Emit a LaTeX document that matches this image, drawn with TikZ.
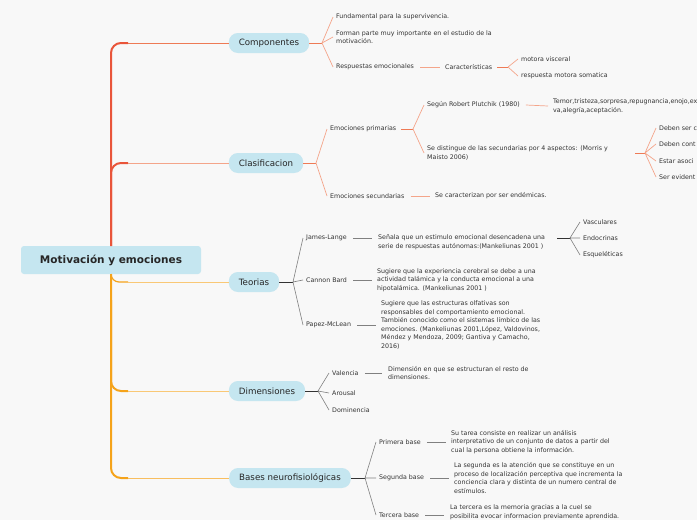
\documentclass[tikz,border=0pt]{standalone}
\usepackage{fontspec}
\setmainfont{DejaVu Sans}
\definecolor{bg}{HTML}{F8F8F8}
\definecolor{topic}{HTML}{C5E6F0}
\definecolor{red1}{HTML}{E9553A}
\definecolor{orng}{HTML}{F5A31A}
\definecolor{salm}{HTML}{F4A58A}
\definecolor{salmd}{HTML}{EE7A55}
\definecolor{gr}{HTML}{808080}
\definecolor{txt}{HTML}{333333}
\begin{document}
\begin{tikzpicture}[x=1pt,y=-1pt,
 leaf/.style={anchor=west,inner xsep=3pt,inner ysep=1pt,align=left,text=txt,font=\fontsize{6.3}{8.6}\selectfont},
 topicbox/.style={fill=topic,rounded corners=9pt,minimum height=20pt,inner xsep=10pt,text=black!85,font=\fontsize{8.7}{10}\selectfont},
 sl/.style={salm,line width=0.7pt},
 gl/.style={gr,line width=0.6pt}]
\fill[bg] (0,0) rectangle (697,520);
\useasboundingbox (0,0) rectangle (697,520);
% root
\node[fill=topic,rounded corners=3pt,minimum width=180pt,minimum height=28pt,font=\bfseries\fontsize{10.5}{12}\selectfont,text=black!85] (root) at (111,260) {Motivación y emociones};
\node[topicbox] (comp) at (269,43) {Componentes};
\node[topicbox] (clas) at (266,163) {Clasificacion};
\node[topicbox] (teor) at (254,282) {Teorias};
\node[topicbox] (dim) at (267,391) {Dimensiones};
\node[topicbox] (bases) at (290,478) {Bases neurofisiológicas};
% trunk
\draw[red1,line width=2pt,rounded corners=10pt] (root.north) -- (111,43) -- (128,43);
\draw[salmd,line width=0.7pt] (128,43) -- (comp.west);
\draw[red1,line width=2pt,rounded corners=10pt] (111,246) -- (111,163) -- (128,163);
\draw[salm,line width=0.7pt] (128,163) -- (clas.west);
\draw[orng,line width=2pt,rounded corners=10pt] (root.south) -- (111,478) -- (128,478);
\draw[orng!70,line width=0.7pt] (128,478) -- (bases.west);
\draw[orng,line width=1.2pt,rounded corners=8pt] (111,274) -- (111,282) -- (128,282);
\draw[orng!60,line width=0.7pt] (128,282) -- (teor.west);
\draw[orng,line width=2pt,rounded corners=10pt] (111,300) -- (111,391) -- (128,391);
\draw[orng!60,line width=0.7pt] (128,391) -- (dim.west);

% Componentes
\node[leaf] (c1) at (333,17) {Fundamental para la supervivencia.};
\node[leaf] (c2) at (333,37) {Forman parte muy importante en el estudio de la\\motivación.};
\node[leaf] (c3) at (333,67) {Respuestas emocionales};
\node[leaf] (c4) at (442,67) {Características};
\node[leaf] (c5) at (518,59) {motora visceral};
\node[leaf] (c6) at (518,76) {respuesta motora somatica};
\coordinate (f1) at (322,43);
\draw[salmd,line width=1pt] (comp.east) -- (f1);
\draw[sl] (f1) -- (c1.west) (f1) -- (c2.west) (f1) -- (c3.west);
\draw[sl] ([xshift=3pt]c3.east) -- ([xshift=-2pt]c4.west);
\coordinate (f2) at (508,67);
\draw[salmd,line width=1pt] ([xshift=2pt]c4.east) -- (f2);
\draw[sl] (f2) -- (c5.west) (f2) -- (c6.west);

% Clasificacion
\node[leaf] (k1) at (327,129) {Emociones primarias};
\node[leaf] (k2) at (327,196) {Emociones secundarias};
\node[leaf] (k3) at (424,105) {Según Robert Plutchik (1980)};
\node[leaf] (k4) at (424,153) {Se distingue de las secundarias por 4 aspectos: (Morris y\\Maisto 2006)};
\node[leaf] (k5) at (550,106) {Temor,tristeza,sorpresa,repugnancia,enojo,expectati\\va,alegría,aceptación.};
\node[leaf] (k6) at (432,196) {Se caracterizan por ser endémicas.};
\node[leaf] (k7) at (656,128) {Deben ser c};
\node[leaf] (k8) at (656,144) {Deben cont};
\node[leaf] (k9) at (656,161) {Estar asoci};
\node[leaf] (k10) at (656,177) {Ser evident};
\coordinate (g1) at (316,163);
\draw[salmd,line width=1pt] (clas.east) -- (g1);
\draw[sl] (g1) -- (k1.west) (g1) -- (k2.west);
\coordinate (g2) at (413,129);
\draw[salmd,line width=1pt] ([xshift=2pt]k1.east) -- (g2);
\draw[sl] (g2) -- (k3.west) (g2) -- (k4.west);
\draw[sl] ([xshift=3pt]k3.east) -- ([xshift=-2pt]k5.west);
\draw[sl] ([xshift=3pt]k2.east) -- ([xshift=-2pt]k6.west);
\coordinate (g3) at (645,153);
\draw[salmd,line width=1pt] (635,153) -- (g3);
\draw[sl] (g3) -- (k7.west) (g3) -- (k8.west) (g3) -- (k9.west) (g3) -- (k10.west);

% Teorias
\node[leaf] (t1) at (303,238) {James-Lange};
\node[leaf] (t2) at (303,280) {Cannon Bard};
\node[leaf] (t3) at (303,325) {Papez-McLean};
\node[leaf] (t4) at (375,242) {Señala que un estimulo emocional desencadena una\\serie de respuestas autónomas:(Mankeliunas 2001 )};
\node[leaf] (t5) at (580,222) {Vasculares};
\node[leaf] (t6) at (580,238) {Endocrinas};
\node[leaf] (t7) at (580,255) {Esqueléticas};
\node[leaf] (t8) at (374,280) {Sugiere que la experiencia cerebral se debe a una\\actividad talámica y la conducta emocional a una\\hipotalámica. (Mankeliunas 2001 )};
\node[leaf] (t9) at (378,325) {Sugiere que las estructuras olfativas son\\responsables del comportamiento emocional.\\También conocido como el sistemas límbico de las\\emociones. (Mankeliunas 2001,López, Valdovinos,\\Méndez y Mendoza, 2009; Gantiva y Camacho,\\2016)};
\coordinate (h1) at (293,282);
\draw[black!80,line width=1pt] (teor.east) -- (h1);
\draw[gl] (h1) -- (t1.west) (h1) -- (t2.west) (h1) -- (t3.west);
\draw[gl] ([xshift=3pt]t1.east) -- ([xshift=-3pt]t4.west |- t1.east);
\draw[gl] ([xshift=3pt]t2.east) -- ([xshift=-2pt]t8.west);
\draw[gl] ([xshift=3pt]t3.east) -- ([xshift=-2pt]t9.west);
\coordinate (h2) at (570,238);
\draw[black!80,line width=1pt] (557,238) -- (h2);
\draw[gl] (h2) -- (t5.west) (h2) -- (t6.west) (h2) -- (t7.west);

% Dimensiones
\node[leaf] (d1) at (329,373) {Valencia};
\node[leaf] (d2) at (329,393) {Arousal};
\node[leaf] (d3) at (329,410) {Dominencia};
\node[leaf] (d4) at (385,373) {Dimensión en que se estructuran el resto de\\dimensiones.};
\coordinate (e1) at (318,391);
\draw[black!80,line width=1pt] (dim.east) -- (e1);
\draw[gl] (e1) -- (d1.west) (e1) -- (d2.west) (e1) -- (d3.west);
\draw[gl] ([xshift=3pt]d1.east) -- ([xshift=-3pt]d4.west |- d1.east);

% Bases
\node[leaf] (b1) at (376,442) {Primera base};
\node[leaf] (b2) at (376,478) {Segunda base};
\node[leaf] (b3) at (376,515) {Tercera base};
\node[leaf] (b4) at (448,442) {Su tarea consiste en realizar un análisis\\interpretativo de un conjunto de datos a partir del\\cual la persona obtiene la información.};
\node[leaf] (b5) at (451,478) {La segunda es la atención que se constituye en un\\proceso de localización perceptiva que incrementa la\\conciencia clara y distinta de un numero central de\\estímulos.};
\node[leaf] (b6) at (447,512) {La tercera es la memoria gracias a la cuel se\\posibilita evocar informacion previamente aprendida.};
\coordinate (e2) at (365,478);
\draw[black!80,line width=1pt] (bases.east) -- (e2);
\draw[gl] (e2) -- (b1.west) (e2) -- (b2.west) (e2) -- (b3.west);
\draw[gl] ([xshift=3pt]b1.east) -- ([xshift=-2pt]b4.west);
\draw[gl] ([xshift=3pt]b2.east) -- ([xshift=-2pt]b5.west);
\draw[gl] ([xshift=3pt]b3.east) -- ([xshift=-3pt]b6.west |- b3.east);
\end{tikzpicture}
\end{document}
